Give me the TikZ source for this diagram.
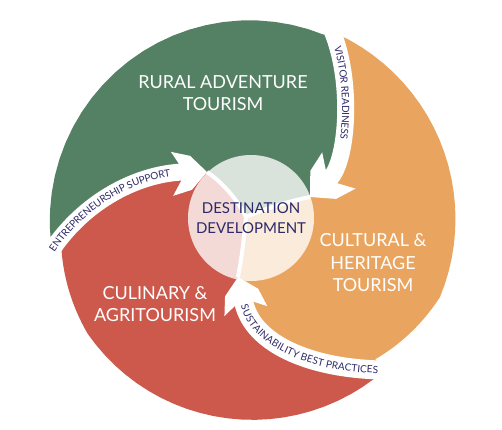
\documentclass[tikz,border=0pt]{standalone}
\usepackage{fontspec}
\setmainfont{Lato}
\usepackage{tikz}
\usetikzlibrary{decorations.text}
\definecolor{bladegreen}{RGB}{84,129,100}
\definecolor{bladered}{RGB}{204,89,75}
\definecolor{bladeorange}{RGB}{233,165,95}
\definecolor{inknavy}{RGB}{45,42,105}
\newcommand{\bandfont}{\fontsize{10}{10}\selectfont\color{inknavy}}

\begin{document}
\begin{tikzpicture}[x=1pt,y=-1pt,line cap=butt,
  band/.style={white,line width=17pt},
  thinline/.style={white,line width=4pt},
  arrowtip/.style={fill=white},
  title/.style={white,align=center,font=\fontsize{18}{22.5}\selectfont},
  bandtext/.style={decorate,decoration={text along path,text format delimiters={|}{|},raise=-3.6pt,#1}}]
\useasboundingbox (0,0) rectangle (502,429);
\coordinate (ctr) at (246,217);
\coordinate (tipA) at (310,197);
\coordinate (baseA) at (328.5,180);
\coordinate (endA) at (322,12);
\coordinate (tipB) at (207,172);
\coordinate (baseB) at (182,172);
\coordinate (endB) at (38,275);
\coordinate (tipC) at (238,277);
\coordinate (baseC) at (243.6,301.4);
\coordinate (endC) at (398,370);
\begin{scope}
\clip plot[domain=68.5:187.4,variable=\t] ({251.5+(198+4*(\t-68.5)/118.9)*cos(\t)},{219-(198+4*(\t-68.5)/118.9)*sin(\t)})
 -- plot[domain=187.4:215,variable=\t] ({251.5+(192+8*(\t-187.4)/27.6)*cos(\t)},{219-(192+8*(\t-187.4)/27.6)*sin(\t)})
 -- plot[domain=215:311.4,variable=\t] ({251.5+(200+1.5*(\t-215)/96.4)*cos(\t)},{219-(200+1.5*(\t-215)/96.4)*sin(\t)})
 -- plot[domain=311.4:337.5,variable=\t] ({251.5+(187+17*(\t-311.4)/26.1)*cos(\t)},{219-(187+17*(\t-311.4)/26.1)*sin(\t)})
 -- plot[domain=337.5:428.5,variable=\t] ({251.5+204*cos(\t)},{219-204*sin(\t)}) -- cycle;
\fill[bladegreen] (ctr) .. controls (262,210) and (285,202) .. (tipA) -- (baseA) .. controls (350,162) and (355,60) .. (endA)
  -- (340,-40) -- (-60,-40) -- (-60,290) -- (endB) .. controls (65,215) and (125,175) .. (baseB) -- (tipB) .. controls (222,182) and (238,200) .. (ctr) -- cycle;
\fill[bladeorange] (ctr) .. controls (262,210) and (285,202) .. (tipA) -- (baseA) .. controls (350,162) and (355,60) .. (endA)
  -- (340,-40) -- (540,-40) -- (540,460) -- (398,460) -- (endC) .. controls (315,372) and (252,345) .. (baseC) -- (tipC) .. controls (241,262) and (244,240) .. (ctr) -- cycle;
\fill[bladered] (ctr) .. controls (244,240) and (241,262) .. (tipC) -- (baseC) .. controls (252,345) and (315,372) .. (endC)
  -- (398,460) -- (-60,460) -- (-60,290) -- (endB) .. controls (65,215) and (125,175) .. (baseB) -- (tipB) .. controls (222,182) and (238,200) .. (ctr) -- cycle;
\end{scope}
\draw[thinline] (ctr) .. controls (262,210) and (285,202) .. (tipA);
\draw[thinline] (ctr) .. controls (238,200) and (222,182) .. (tipB);
\draw[thinline] (ctr) .. controls (244,240) and (241,262) .. (tipC);
\draw[band] (endA) .. controls (355,60) and (350,162) .. (baseA);
\draw[band] (endB) .. controls (65,215) and (125,175) .. (baseB);
\draw[band,line width=19pt] (baseC) .. controls (252,345) and (315,372) .. (endC);
\fill[arrowtip,shift={(tipA)},rotate=222.6,scale=1.12] (0,0) -- (-16,17) -- (-35,22) -- (-26,7) -- (-26,-7) -- (-35,-22) -- (-16,-17) -- cycle;
\fill[arrowtip,shift={(tipB)},rotate=3] (0,0) -- (-16,17) -- (-35,22) -- (-26,7) -- (-26,-7) -- (-35,-22) -- (-16,-17) -- cycle;
\fill[arrowtip,shift={(tipC)},rotate=103] (0,0) -- (-16,17) -- (-35,22) -- (-26,7) -- (-26,-7) -- (-35,-22) -- (-16,-17) -- cycle;
\path[bandtext={text={|\bandfont|VISITOR READINESS},text align={left indent=38pt}}] (endA) .. controls (355,60) and (350,162) .. (baseA);
\path[bandtext={text={|\bandfont|ENTREPRENEURSHIP SUPPORT},text align={left indent=28pt}}] (endB) .. controls (65,215) and (125,175) .. (baseB);
\path[bandtext={text={|\bandfont|SUSTAINABILITY BEST PRACTICES},text align={left indent=3pt}}] (baseC) .. controls (252,345) and (315,372) .. (endC);
\node[circle,fill=white,fill opacity=0.78,text opacity=1,minimum size=126pt,inner sep=0pt,text=inknavy,align=center,
  font=\fontsize{15}{20}\selectfont] (hub) at (251,218) {DESTINATION\\DEVELOPMENT};
\node[title] (rural) at (223,93) {RURAL ADVENTURE\\TOURISM};
\node[title] (cultural) at (373,263) {CULTURAL \&\\HERITAGE\\TOURISM};
\node[title] (culinary) at (155,304) {CULINARY \&\\AGRITOURISM};
\end{tikzpicture}
\end{document}
